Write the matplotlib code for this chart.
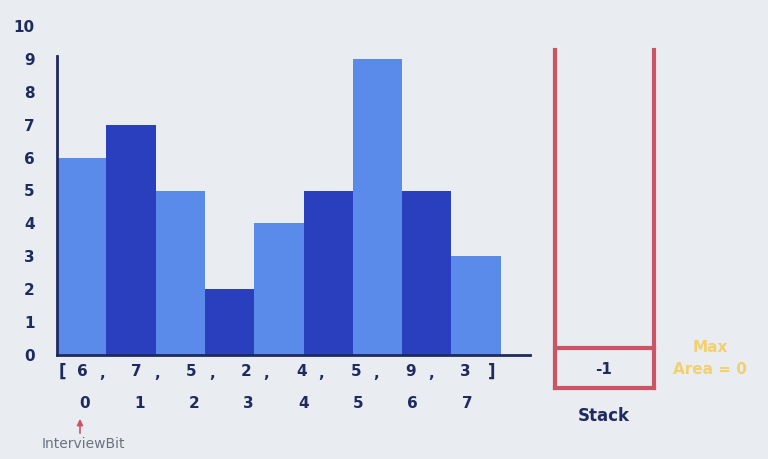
import matplotlib
matplotlib.use("Agg")
import matplotlib.pyplot as plt
from matplotlib.lines import Line2D

# data
heights = [6, 7, 5, 2, 4, 5, 9, 5, 3]
array_vals = [6, 7, 5, 2, 4, 5, 9, 3]
indices = [0, 1, 2, 3, 4, 5, 6, 7]
stack_items = ["-1"]
max_area = 0

BG = "#e9edf2"
LIGHT = "#5a8bea"
DARK = "#2a3fbd"
NAVY = "#1f2a5e"
RED = "#cc5565"
GOLD = "#f3cf6e"

W, H = 768, 459
fig = plt.figure(figsize=(W / 100, H / 100), dpi=100)
fig.patch.set_facecolor(BG)


def px(x, y):
    return x / W, 1 - y / H


unit = 49.3
ax = fig.add_axes([57 / W, (H - 355) / H, 473 / W, 10.2 * 32.9 / H])
ax.set_facecolor("none")
colors = [LIGHT if i % 2 == 0 else DARK for i in range(len(heights))]
ax.bar(range(len(heights)), heights, width=1.0, align="edge", color=colors)
ax.set_xlim(0, 473 / unit)
ax.set_ylim(0, 10.2)
for s in ["top", "right"]:
    ax.spines[s].set_visible(False)
for s in ["left", "bottom"]:
    ax.spines[s].set_color(NAVY)
    ax.spines[s].set_linewidth(2)
ax.spines["left"].set_bounds(0, 9.1)
ax.set_xticks([])
ax.set_yticks(range(11))
ax.set_yticklabels([str(i) for i in range(11)], color=NAVY, fontweight="bold", fontsize=11)
ax.tick_params(axis="y", length=0, pad=16)

# array row and index row
fig.text(*px(62, 372), "[", color=NAVY, fontsize=12, fontweight="bold", ha="center", va="center")
fig.text(*px(492, 372), "]", color=NAVY, fontsize=12, fontweight="bold", ha="center", va="center")
for i, v in enumerate(array_vals):
    x = 82 + i * 54.8
    fig.text(*px(x, 372), str(v), color=NAVY, fontsize=11, fontweight="bold", ha="center", va="center")
    if i < len(array_vals) - 1:
        fig.text(*px(x + 20, 374), ",", color=NAVY, fontsize=11, fontweight="bold", ha="center", va="center")
for i in indices:
    fig.text(*px(85 + i * 54.6, 404), str(i), color=NAVY, fontsize=11, fontweight="bold", ha="center", va="center")

# pointer arrow
fig.patches.append(matplotlib.patches.FancyArrowPatch(
    px(80, 436), px(80, 416), transform=fig.transFigure, arrowstyle="-|>",
    mutation_scale=9, color=RED, lw=1.2))

# stack
for xs, ys in [([555, 555], [50, 388]), ([654, 654], [50, 388]),
               ([555, 654], [348, 348]), ([555, 654], [388, 388])]:
    fig.add_artist(Line2D([x / W for x in xs], [1 - y / H for y in ys], color=RED, lw=3,
                          transform=fig.transFigure))
for j, item in enumerate(stack_items):
    fig.text(*px(604, 370 - j * 40), item, color=NAVY, fontsize=11, fontweight="bold", ha="center", va="center")
fig.text(*px(604, 416), "Stack", color=NAVY, fontsize=12, fontweight="bold", ha="center", va="center")
fig.text(*px(710, 348), "Max", color=GOLD, fontsize=11, fontweight="bold", ha="center", va="center")
fig.text(*px(710, 370), f"Area = {max_area}", color=GOLD, fontsize=11, fontweight="bold", ha="center", va="center")

# logo text
fig.text(*px(42, 444), "InterviewBit", color="#6b7280", fontsize=10, ha="left", va="center")

fig.savefig("out.png", dpi=100, facecolor=BG)
